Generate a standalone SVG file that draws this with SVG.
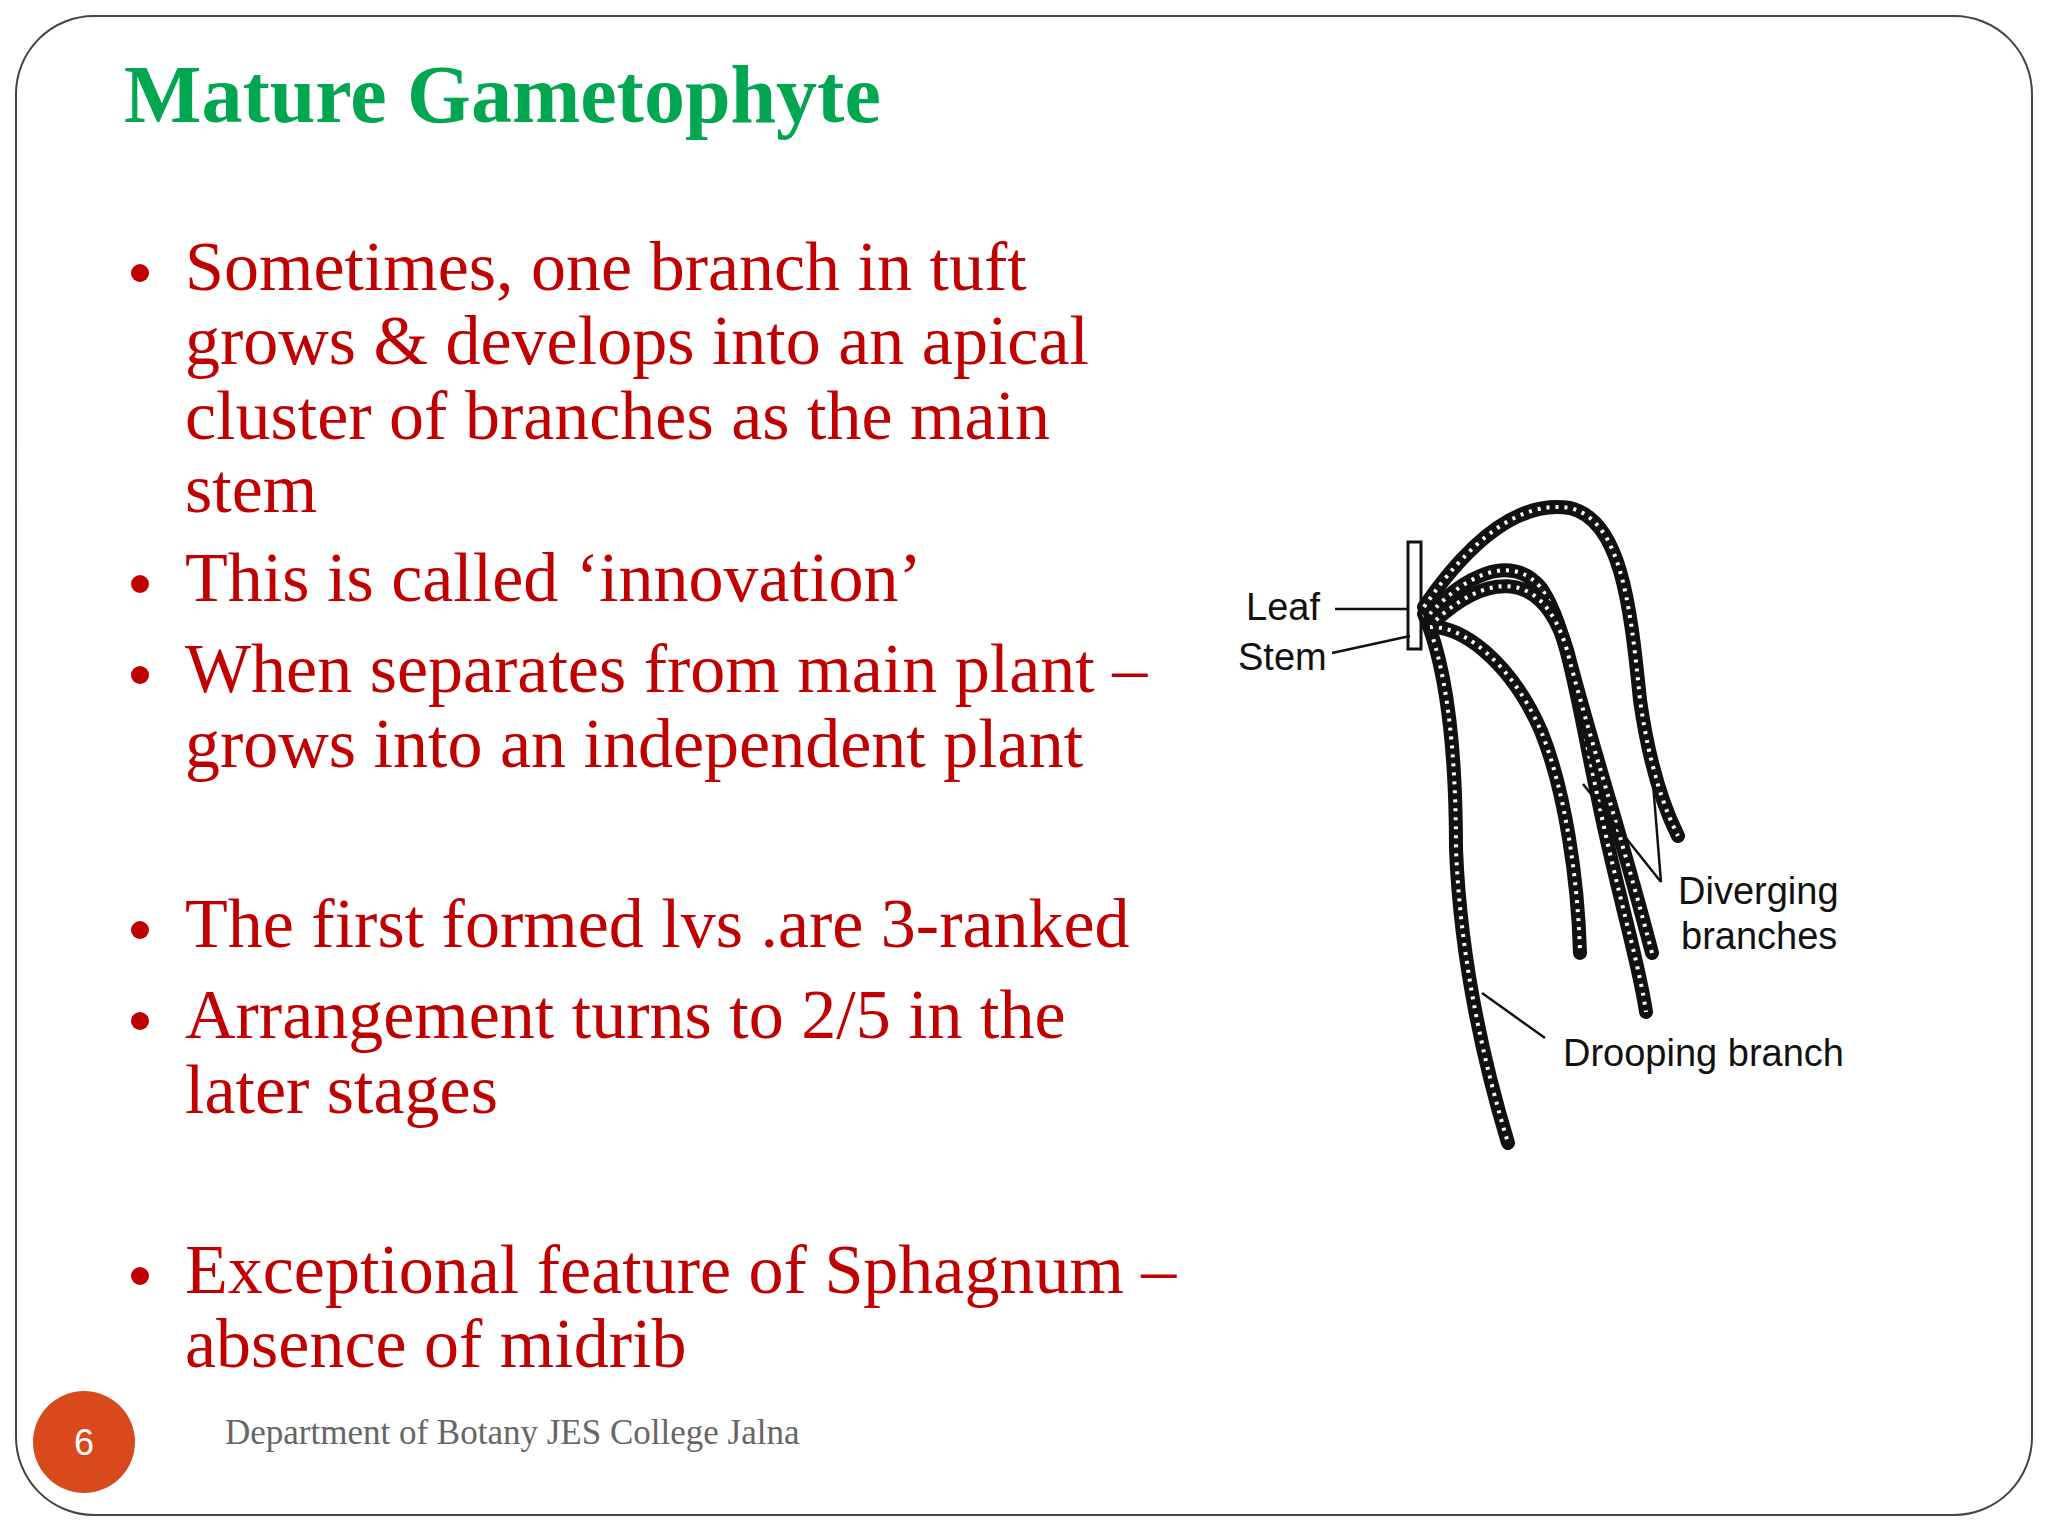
<svg xmlns="http://www.w3.org/2000/svg" width="2048" height="1536" viewBox="0 0 2048 1536">
<style>
.b{font-family:"Liberation Serif",serif;font-size:70px;fill:#c00000}
.d{fill:#c00000}
.l{font-family:"Liberation Sans",Arial,sans-serif;font-size:38px;fill:#111}
.ld{stroke:#111;stroke-width:2.5;fill:none}
.s{fill:none;stroke:#111;stroke-width:14;stroke-linecap:round}
.t{fill:none;stroke:#fff;stroke-width:4;stroke-dasharray:3 6}
</style>
<rect width="2048" height="1536" fill="#fff"/>
<rect x="16" y="16" width="2016" height="1499" rx="78" fill="none" stroke="#444" stroke-width="2"/>
<text x="124" y="122" font-family="Liberation Serif,serif" font-weight="bold" font-size="82" fill="#00a650">Mature Gametophyte</text>
<g id="bullets">
<circle class="d" cx="140" cy="273" r="9"/><circle class="d" cx="140" cy="584" r="9"/><circle class="d" cx="140" cy="675" r="9"/><circle class="d" cx="140" cy="930" r="9"/><circle class="d" cx="140" cy="1021" r="9"/><circle class="d" cx="140" cy="1276" r="9"/>
<text class="b" x="185" y="290">Sometimes, one branch in tuft</text>
<text class="b" x="185" y="364">grows &amp; develops into an apical</text>
<text class="b" x="185" y="439">cluster of branches as the main</text>
<text class="b" x="185" y="512">stem</text>
<text class="b" x="185" y="601">This is called ‘innovation’</text>
<text class="b" x="185" y="692">When separates from main plant –</text>
<text class="b" x="185" y="767">grows into an independent plant</text>
<text class="b" x="185" y="947">The first formed lvs .are 3-ranked</text>
<text class="b" x="185" y="1038">Arrangement turns to 2/5 in the</text>
<text class="b" x="185" y="1113">later stages</text>
<text class="b" x="185" y="1293">Exceptional feature of Sphagnum –</text>
<text class="b" x="185" y="1367">absence of midrib</text>
</g>
<g id="plant">
<rect x="1408" y="542" width="13" height="107" fill="#fff" stroke="#111" stroke-width="3"/>
<path class="s" d="M1424,614 C1440,650 1456,720 1456,849 C1460,950 1480,1050 1508,1143"/>
<path class="t" d="M1424,614 C1440,650 1456,720 1456,849 C1460,950 1480,1050 1508,1143"/>
<path class="s" d="M1424,607 C1470,540 1520,500 1570,508 C1620,520 1630,600 1640,700 C1650,770 1665,810 1678,836"/>
<path class="t" d="M1424,607 C1470,540 1520,500 1570,508 C1620,520 1630,600 1640,700 C1650,770 1665,810 1678,836"/>
<path class="s" d="M1430,614 C1460,580 1510,550 1541,588 C1570,630 1580,720 1606,836 C1625,920 1640,970 1646,1012"/>
<path class="t" d="M1430,614 C1460,580 1510,550 1541,588 C1570,630 1580,720 1606,836 C1625,920 1640,970 1646,1012"/>
<path class="s" d="M1430,627 C1460,625 1510,660 1541,731 C1565,790 1578,880 1580,953"/>
<path class="t" d="M1430,627 C1460,625 1510,660 1541,731 C1565,790 1578,880 1580,953"/>
<path class="s" d="M1436,620 C1480,580 1540,560 1567,650 C1590,740 1620,830 1652,953"/>
<path class="t" d="M1436,620 C1480,580 1540,560 1567,650 C1590,740 1620,830 1652,953"/>
</g>
<g id="labels">
<path class="ld" d="M1335,609 L1408,609 M1332,653 L1410,636 M1661,882 L1583,784 M1661,882 L1652,771 M1545,1038 L1482,993"/>
<text class="l" x="1246" y="620">Leaf</text>
<text class="l" x="1238" y="670">Stem</text>
<text class="l" x="1678" y="904">Diverging</text>
<text class="l" x="1681" y="949">branches</text>
<text class="l" x="1563" y="1066">Drooping branch</text>
</g>
<g id="footer">
<circle cx="84" cy="1442" r="51" fill="#d84a1b"/>
<text x="84" y="1455" text-anchor="middle" font-family="Liberation Sans,sans-serif" font-size="36" fill="#fff">6</text>
<text x="225" y="1444" font-family="Liberation Serif,serif" font-size="35" fill="#666">Department of Botany JES College Jalna</text>
</g>
</svg>
